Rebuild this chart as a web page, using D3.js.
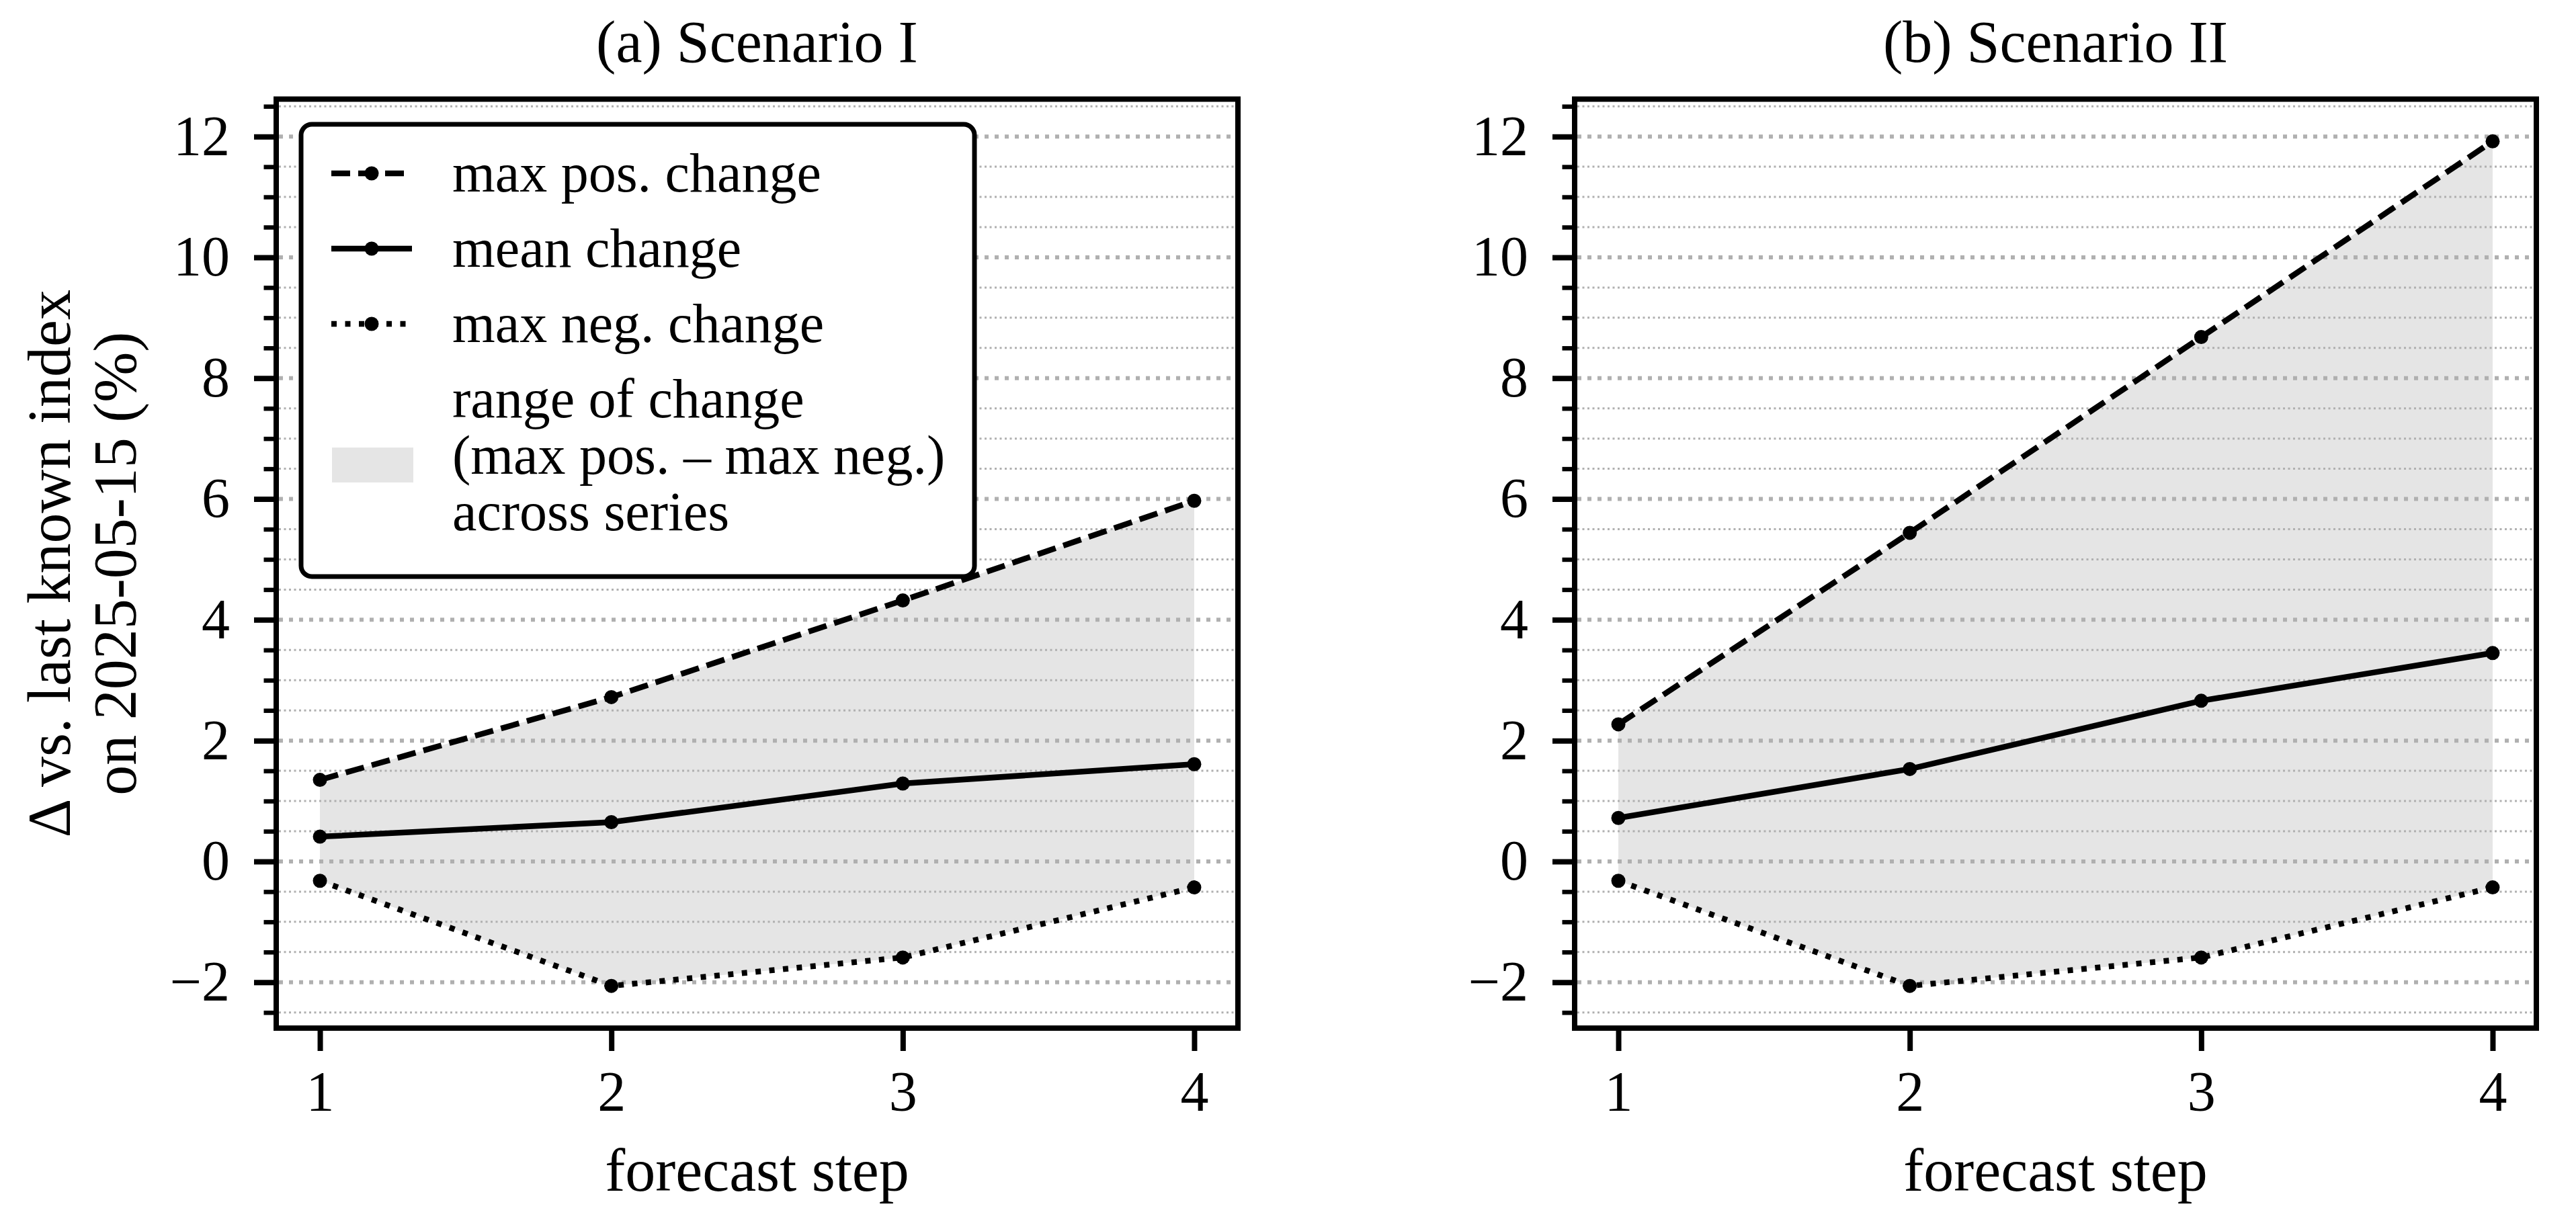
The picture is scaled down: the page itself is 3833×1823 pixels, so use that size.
<!DOCTYPE html>
<html>
<head>
<meta charset="utf-8">
<script src="https://cdn.jsdelivr.net/npm/d3@7"></script>
<style>
  html, body { margin: 0; padding: 0; background: #ffffff; }
  svg { display: block; }
</style>
</head>
<body>
<svg id="chart" width="3833" height="1823"></svg>
<script>
// ---------------- data ----------------
const steps = [1, 2, 3, 4];
const xTickLabels = ["1", "2", "3", "4"];

const scen1MaxPos = [1.35, 2.72, 4.32, 5.97];
const scen1Mean   = [0.41, 0.65, 1.29, 1.61];
const scen1MaxNeg = [-0.32, -2.06, -1.59, -0.43];

const scen2MaxPos = [2.27, 5.44, 8.68, 11.92];
const scen2Mean   = [0.72, 1.53, 2.66, 3.45];
const scen2MaxNeg = [-0.32, -2.06, -1.59, -0.43];

const panelTitles = ["(a) Scenario I", "(b) Scenario II"];
const yMajorTicks = [-2, 0, 2, 4, 6, 8, 10, 12];
const yMinorTicks = [-2.5, -1.5, -1, -0.5, 0.5, 1, 1.5, 2.5, 3, 3.5, 4.5, 5, 5.5, 6.5, 7, 7.5, 8.5, 9, 9.5, 10.5, 11, 11.5, 12.5];
const xLabel = "forecast step";
const yLabelLines = ["\u0394 vs. last known index", "on 2025-05-15 (%)"];
const legendLineLabels = ["max pos. change", "mean change", "max neg. change"];
const legendPatchLines = ["range of change", "(max pos. \u2013 max neg.)", "across series"];

// ---------------- layout / style ----------------
const FONT = "'Liberation Serif', 'Times New Roman', serif";
const FS_TICK = 84, FS_TITLE = 88, FS_LABEL = 90, FS_LEG = 82;
const TOP = 147.5, BOTTOM = 1530;
const panels = [
  { left: 411, right: 1842, maxPos: scen1MaxPos, mean: scen1Mean, maxNeg: scen1MaxNeg, title: panelTitles[0], ylabel: true, legend: true },
  { left: 2343, right: 3774, maxPos: scen2MaxPos, mean: scen2Mean, maxNeg: scen2MaxNeg, title: panelTitles[1], ylabel: false, legend: false }
];
const LW = 8.5;
const MR = 10.5;
const styles = {
  maxPos: "28,12",
  mean: null,
  maxNeg: "8,12.5"
};
const GRID = "#b0b0b0";
const FILL = "#e5e5e5";

// shared domains with 5% margins (matplotlib-like)
const allVals = [].concat(scen1MaxPos, scen1Mean, scen1MaxNeg, scen2MaxPos, scen2Mean, scen2MaxNeg);
const yMin = d3.min(allVals), yMax = d3.max(allVals);
const yPad = (yMax - yMin) * 0.05;
const yDomain = [yMin - yPad, yMax + yPad];
const xMin = d3.min(steps), xMax = d3.max(steps);
const xPad = (xMax - xMin) * 0.05;
const xDomain = [xMin - xPad, xMax + xPad];

const fmt = d => (d < 0 ? "\u2212" + Math.abs(d) : String(d));

const svg = d3.select("#chart");
svg.append("rect").attr("width", 3833).attr("height", 1823).attr("fill", "#ffffff");

panels.forEach(p => {
  const x = d3.scaleLinear().domain(xDomain).range([p.left, p.right]);
  const y = d3.scaleLinear().domain(yDomain).range([BOTTOM, TOP]);
  const g = svg.append("g");

  // fill between
  const area = d3.area()
    .x((d, i) => x(steps[i]))
    .y0((d, i) => y(p.maxNeg[i]))
    .y1((d, i) => y(p.maxPos[i]));
  g.append("path").datum(steps).attr("d", area).attr("fill", FILL).attr("stroke", "none");

  // grid (minor then major)
  const minorIn = yMinorTicks.filter(v => v > yDomain[0] && v < yDomain[1]);
  g.append("g").selectAll("line").data(minorIn)
    .join("line")
    .attr("x1", p.left + 4).attr("x2", p.right - 4)
    .attr("y1", d => y(d)).attr("y2", d => y(d))
    .attr("stroke", GRID).attr("stroke-width", 3).attr("stroke-dasharray", "3,4.5");
  g.append("g").selectAll("line").data(yMajorTicks)
    .join("line")
    .attr("x1", p.left + 4).attr("x2", p.right - 4)
    .attr("y1", d => y(d)).attr("y2", d => y(d))
    .attr("stroke", GRID).attr("stroke-width", 6).attr("stroke-dasharray", "6,9");

  // series lines
  const series = [
    { vals: p.maxPos, dash: styles.maxPos },
    { vals: p.mean, dash: styles.mean },
    { vals: p.maxNeg, dash: styles.maxNeg }
  ];
  const line = d3.line().x((d, i) => x(steps[i])).y(d => y(d));
  series.forEach(s => {
    g.append("path").datum(s.vals).attr("d", line)
      .attr("fill", "none").attr("stroke", "#000").attr("stroke-width", LW)
      .attr("stroke-dasharray", s.dash);
    g.append("g").selectAll("circle").data(s.vals).join("circle")
      .attr("cx", (d, i) => x(steps[i])).attr("cy", d => y(d)).attr("r", MR).attr("fill", "#000");
  });

  // axes
  const yAxis = g.append("g").attr("transform", `translate(${p.left},0)`)
    .call(d3.axisLeft(y).tickValues(yMajorTicks).tickSize(33).tickPadding(36).tickFormat(fmt));
  const yAxisMinor = g.append("g").attr("transform", `translate(${p.left},0)`)
    .call(d3.axisLeft(y).tickValues(minorIn).tickSize(18.5).tickFormat(""));
  const xAxis = g.append("g").attr("transform", `translate(0,${BOTTOM})`)
    .call(d3.axisBottom(x).tickValues(steps).tickSize(34).tickPadding(29).tickFormat((d, i) => xTickLabels[i]));
  [yAxis, yAxisMinor, xAxis].forEach(a => {
    a.select(".domain").remove();
    a.attr("font-family", FONT).attr("font-size", FS_TICK);
    a.selectAll("text").attr("fill", "#000");
  });
  yAxis.selectAll(".tick line").attr("stroke", "#000").attr("stroke-width", 8);
  xAxis.selectAll(".tick line").attr("stroke", "#000").attr("stroke-width", 8);
  yAxisMinor.selectAll(".tick line").attr("stroke", "#000").attr("stroke-width", 6.5);

  // spines
  g.append("rect").attr("x", p.left).attr("y", TOP)
    .attr("width", p.right - p.left).attr("height", BOTTOM - TOP)
    .attr("fill", "none").attr("stroke", "#000").attr("stroke-width", 8);

  // title
  g.append("text").attr("x", (p.left + p.right) / 2).attr("y", 92)
    .attr("text-anchor", "middle").attr("font-family", FONT).attr("font-size", FS_TITLE)
    .text(p.title);

  // x label
  g.append("text").attr("x", (p.left + p.right) / 2).attr("y", 1772)
    .attr("text-anchor", "middle").attr("font-family", FONT).attr("font-size", FS_LABEL)
    .text(xLabel);

  // y label
  if (p.ylabel) {
    const cy = (TOP + BOTTOM) / 2;
    [104, 202].forEach((bx, i) => {
      g.append("text").attr("transform", `translate(${bx},${cy}) rotate(-90)`)
        .attr("text-anchor", "middle").attr("font-family", FONT).attr("font-size", FS_LABEL)
        .text(yLabelLines[i]);
    });
  }

  // legend
  if (p.legend) {
    const lg = g.append("g");
    lg.append("rect").attr("x", 448).attr("y", 185).attr("width", 1002).attr("height", 673)
      .attr("rx", 16).attr("ry", 16)
      .attr("fill", "#ffffff").attr("stroke", "#000").attr("stroke-width", 7);
    const hx0 = 493, hx1 = 613, hxc = 553, tx = 673;
    const rowY = [258, 370, 482];
    const dashes = [styles.maxPos, styles.mean, styles.maxNeg];
    legendLineLabels.forEach((lab, i) => {
      lg.append("line").attr("x1", hx0).attr("x2", hx1).attr("y1", rowY[i]).attr("y2", rowY[i])
        .attr("stroke", "#000").attr("stroke-width", LW).attr("stroke-dasharray", dashes[i]);
      lg.append("circle").attr("cx", hxc).attr("cy", rowY[i]).attr("r", MR).attr("fill", "#000");
      lg.append("text").attr("x", tx).attr("y", rowY[i] + 27)
        .attr("font-family", FONT).attr("font-size", FS_LEG).text(lab);
    });
    lg.append("rect").attr("x", 494).attr("y", 666).attr("width", 121).attr("height", 52).attr("fill", FILL);
    const pBase = [621, 705, 789];
    legendPatchLines.forEach((lab, i) => {
      lg.append("text").attr("x", tx).attr("y", pBase[i])
        .attr("font-family", FONT).attr("font-size", FS_LEG).text(lab);
    });
  }
});
</script>
</body>
</html>
